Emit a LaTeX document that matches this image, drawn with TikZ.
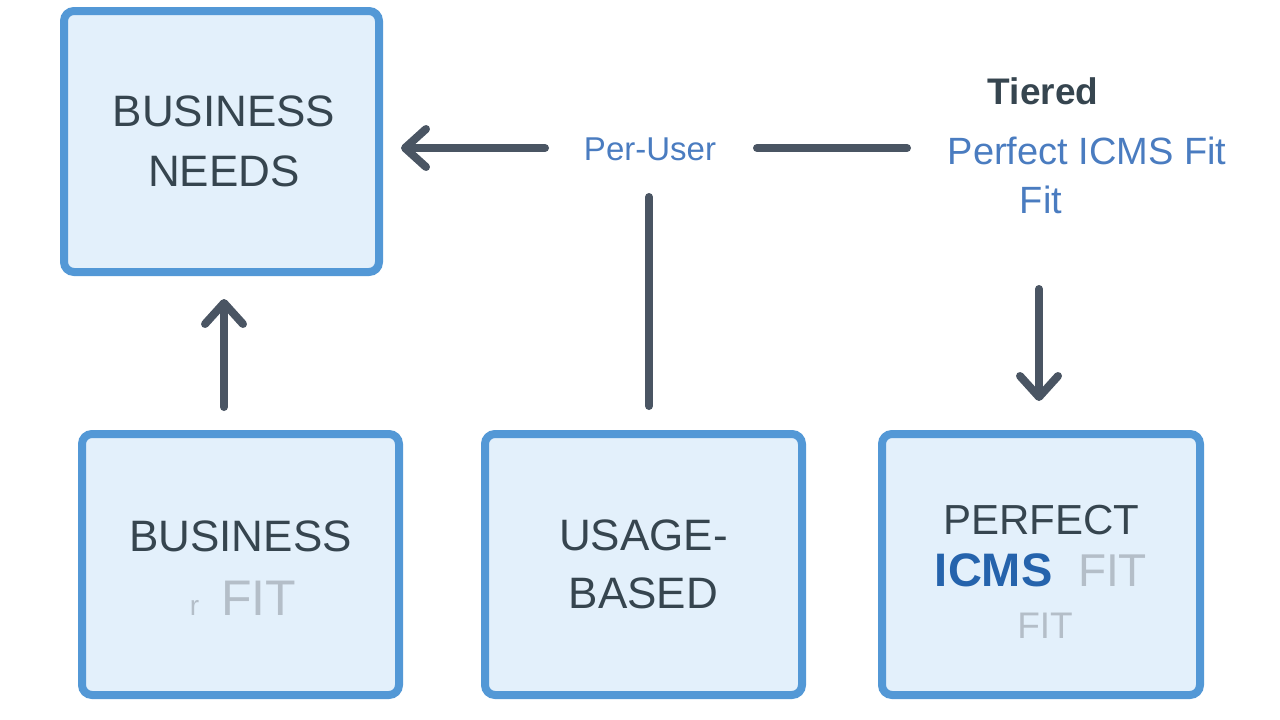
\documentclass[tikz,border=0pt]{standalone}
\usepackage{fontspec}
\setmainfont{Liberation Sans}
\usetikzlibrary{arrows.meta}
\definecolor{boxedge}{HTML}{5398D6}
\definecolor{boxfill}{HTML}{E3F0FB}
\definecolor{ink}{HTML}{36454F}
\definecolor{linkc}{HTML}{4A5563}
\definecolor{bluetxt}{HTML}{4A7CC0}
\definecolor{icms}{HTML}{2563AC}
\definecolor{ghost}{HTML}{B4BEC8}
\tikzset{
  panel/.style={draw=boxedge,fill=boxfill,line width=8pt,rounded corners=10pt,inner sep=0pt,
    text=ink,align=center,font=\fontsize{44}{60}\selectfont},
  flowarrow/.style={draw=linkc,line width=8pt,line cap=round,
    -{Straight Barb[round,length=21pt,width=38pt,line width=8pt]}},
  flowline/.style={draw=linkc,line width=8pt,line cap=round},
  lbl/.style={inner sep=0pt,align=center,text=bluetxt,font=\fontsize{38}{49}\selectfont}
}
\begin{document}
\begin{tikzpicture}[x=1pt,y=-1pt]
\useasboundingbox (0,0) rectangle (1280,720);
\node[panel,minimum width=315pt,minimum height=261pt] (needs) at (221.5,141.5) {\hspace*{5pt}BUSINESS\\\hspace*{5pt}NEEDS};
\node[panel,minimum width=317pt,minimum height=261pt] (fit) at (240.5,564.5) {\rule{0pt}{38pt}BUSINESS\\[4pt]\hspace*{5pt}{\color{ghost}\fontsize{28}{28}\selectfont r\hspace{14pt} \fontsize{50}{50}\selectfont FIT}};
\node[panel,minimum width=317pt,minimum height=261pt,font=\fontsize{44}{58}\selectfont] (usage) at (643.5,564.5) {USAGE-\\BASED};
\node[panel,minimum width=318pt,minimum height=261pt,font=\fontsize{42}{52}\selectfont] (perfect) at (1041,564.5) {\rule{0pt}{44pt}PERFECT\\{\color{icms}\fontsize{47}{52}\selectfont\bfseries ICMS}\hspace{14pt} {\color{ghost}\fontsize{46}{52}\selectfont FIT}\hspace*{18pt}\\\hspace*{8pt}{\color{ghost}\fontsize{37}{50}\selectfont FIT}};
\node[lbl,font=\fontsize{33}{40}\selectfont] (peruser) at (650,149) {Per-User};
\node[inner sep=0pt,text=ink,font=\fontsize{37}{42}\selectfont\bfseries] (tiered) at (1043,91) {Tiered};
\node[lbl] (icmsfit) at (1087,175) {Perfect ICMS Fit\\\hspace*{-92pt}Fit};
\coordinate (a1) at (545,148);
\coordinate (a2) at (401,148);
\coordinate (b1) at (757,148);
\coordinate (b2) at (907,148);
\coordinate (c1) at (649,197);
\coordinate (c2) at (649,406);
\coordinate (d1) at (224,407);
\coordinate (d2) at (224,299);
\coordinate (e1) at (1039,289);
\coordinate (e2) at (1039,401);
\draw[flowarrow] (a1) -- (a2);
\draw[flowline] (b1) -- (b2);
\draw[flowline] (c1) -- (c2);
\draw[flowarrow] (d1) -- (d2);
\draw[flowarrow] (e1) -- (e2);
\end{tikzpicture}
\end{document}
